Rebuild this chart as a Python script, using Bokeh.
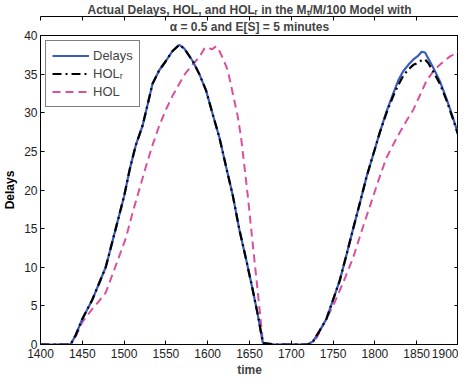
from bokeh.plotting import figure
from bokeh.models import Range1d, LinearAxis, Title, Legend, LegendItem, FixedTicker
from bokeh.embed import file_html
from bokeh.resources import INLINE

# ---- data ----
t_delay = [1400, 1420, 1436, 1442, 1450, 1462, 1470, 1478, 1490, 1500, 1507, 1514, 1522, 1528,
           1534, 1542, 1550, 1558, 1566, 1572, 1582, 1590, 1598, 1606, 1614, 1622, 1630, 1638,
           1646, 1654, 1660, 1666, 1680, 1700, 1720, 1726, 1734, 1742, 1750, 1758, 1766, 1774,
           1782, 1790, 1798, 1806, 1814, 1822, 1828, 1834, 1840, 1846, 1852, 1856, 1860, 1864,
           1870, 1878, 1886, 1893, 1900]
delays = [0, 0, 0, 1.2, 3.3, 5.8, 7.9, 10.0, 15.0, 19.2, 22.8, 25.8, 28.3, 31.0,
          33.75, 35.5, 36.7, 38.0, 38.8, 38.3, 36.7, 35.0, 32.9, 29.8, 26.8, 23.0, 19.3, 14.8,
          11.0, 7.0, 3.8, 0.2, 0, 0, 0, 0.4, 1.8, 3.3, 5.8, 8.3, 11.6, 15.0,
          18.3, 21.7, 24.6, 27.5, 30.2, 32.5, 34.2, 35.4, 36.2, 36.9, 37.4, 37.9, 37.8, 37.0,
          35.8, 34.0, 31.7, 29.5, 27.1]
hol_r = [0, 0, 0, 1.2, 3.3, 5.8, 7.9, 10.0, 15.0, 19.2, 22.8, 25.8, 28.3, 31.0,
         33.75, 35.5, 36.7, 38.0, 38.8, 38.3, 36.7, 35.0, 32.9, 29.8, 26.8, 23.0, 19.3, 14.8,
         11.0, 7.0, 3.8, 0.2, 0, 0, 0, 0.4, 1.8, 3.3, 5.8, 8.3, 11.6, 15.0,
         18.3, 21.7, 24.6, 27.5, 30.0, 32.2, 33.6, 34.8, 35.6, 36.2, 36.5, 36.8, 36.9, 36.4,
         35.3, 33.7, 31.5, 29.3, 27.0]

t_hol = [1400, 1436, 1442, 1450, 1462, 1470, 1478, 1490, 1502, 1510, 1518, 1526, 1534, 1542,
         1550, 1558, 1566, 1574, 1582, 1590, 1596, 1600, 1605, 1610, 1614, 1618, 1624, 1630,
         1636, 1640, 1644, 1648, 1654, 1660, 1666, 1670, 1700, 1720, 1730, 1740, 1750, 1762,
         1774, 1786, 1798, 1806, 1814, 1822, 1830, 1838, 1846, 1854, 1862, 1870, 1878, 1884,
         1890, 1895, 1900]
hol = [0, 0, 1.0, 2.9, 4.6, 5.6, 6.7, 10.2, 13.75, 17.0, 20.0, 23.0, 25.8, 28.3,
       30.4, 32.2, 33.75, 35.2, 36.25, 37.2, 38.3, 38.5, 38.2, 38.6, 38.0, 37.1, 35.5, 32.5,
       29.5, 26.7, 23.0, 19.2, 12.9, 6.7, 0.4, 0, 0, 0, 0.8, 2.9, 5.0, 8.0,
       11.25, 15.3, 19.2, 21.8, 24.2, 25.9, 27.5, 29.0, 30.4, 32.3, 34.2, 35.4, 36.25, 36.8,
       37.3, 37.6, 37.9]

x_ticks = [1400, 1450, 1500, 1550, 1600, 1650, 1700, 1750, 1800, 1850, 1900]
y_ticks = [0, 5, 10, 15, 20, 25, 30, 35, 40]

FONT = "Liberation Sans"

p = figure(width=458, height=376, output_backend="svg", toolbar_location=None,
           x_range=Range1d(1400, 1900), y_range=Range1d(0, 40),
           min_border_left=34, min_border_right=0, min_border_top=0, min_border_bottom=0)

p.title.text = "Actual Delays, HOL, and HOL\u1d63 in the M\u209c/M/100 Model with"
p.title.align = "center"
p.title.text_font = FONT
p.title.text_font_size = "12px"
p.title.text_font_style = "bold"
p.title.text_line_height = 1.0
p.title.standoff = 0
t2 = Title(text="\u03b1 = 0.5 and E[S] = 5 minutes",
           align="center", text_font=FONT, text_font_size="12px", text_font_style="bold",
           text_line_height=1.0, standoff=3)
p.add_layout(t2, "above")

# x-axis title as a centred title below the frame
t_x = Title(text="time", align="center", text_font=FONT, text_font_size="12px",
            text_font_style="bold", text_line_height=1.0, standoff=0)
p.add_layout(t_x, "below")

p.grid.visible = False
p.outline_line_color = "black"
p.outline_line_width = 1
p.background_fill_color = "white"
p.border_fill_color = "white"

for ax in (p.xaxis[0], p.yaxis[0]):
    ax.major_tick_in = 4
    ax.major_tick_out = 0
    ax.minor_tick_in = 0
    ax.minor_tick_out = 0
    ax.axis_line_color = "black"
    ax.major_tick_line_color = "black"
    ax.major_label_text_font = FONT
    ax.major_label_text_font_size = "12px"
    ax.major_label_text_color = "#222222"
    ax.major_label_text_line_height = 1.0
    ax.axis_label_text_font = FONT
    ax.axis_label_text_font_size = "12px"
    ax.axis_label_text_font_style = "bold"
    ax.axis_label_text_color = "black"

p.xaxis[0].ticker = FixedTicker(ticks=x_ticks)
p.yaxis[0].ticker = FixedTicker(ticks=y_ticks)
p.yaxis[0].axis_label = "Delays"
p.xaxis[0].major_label_standoff = 4
p.yaxis[0].major_label_standoff = 3
p.yaxis[0].axis_label_standoff = 4

# mirror ticks on top and right (no labels drawn)
top = LinearAxis(ticker=FixedTicker(ticks=x_ticks), major_tick_in=4, major_tick_out=0,
                 minor_tick_in=0, minor_tick_out=0, major_label_text_color=None,
                 major_label_standoff=0, axis_line_color="black")
right = LinearAxis(ticker=FixedTicker(ticks=y_ticks), major_tick_in=4, major_tick_out=0,
                   minor_tick_in=0, minor_tick_out=0, major_label_text_color=None,
                   major_label_standoff=0, axis_line_color="black")
p.add_layout(top, "above")
p.add_layout(right, "right")

r_hol = p.line(t_hol, hol, line_color="#d9509f", line_width=2, line_dash="8 5")
r_del = p.line(t_delay, delays, line_color="#3a5cc0", line_width=2.2)
r_holr = p.line(t_delay, hol_r, line_color="black", line_width=2.2, line_dash="9 4 2 4")

legend = Legend(items=[LegendItem(label="Delays", renderers=[r_del]),
                       LegendItem(label="HOL\u1d63", renderers=[r_holr]),
                       LegendItem(label="HOL", renderers=[r_hol])],
                location="top_left", margin=5, padding=6, spacing=1,
                glyph_width=37, glyph_height=17, label_height=17, label_width=1,
                label_standoff=4,
                label_text_font=FONT, label_text_font_size="13px",
                border_line_color="black", border_line_width=1, background_fill_alpha=1)
p.add_layout(legend, "center")

open("out.html", "w").write(file_html(p, INLINE))
